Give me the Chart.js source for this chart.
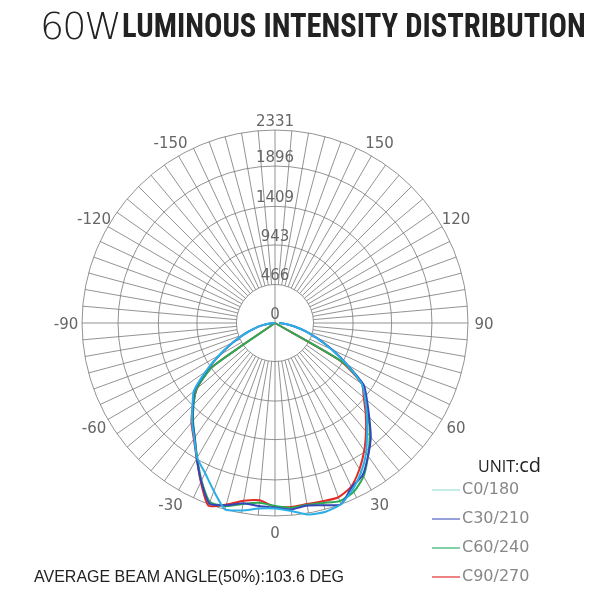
<!DOCTYPE html>
<html><head><meta charset="utf-8">
<script src="https://cdn.jsdelivr.net/npm/chart.js@4"></script>
<style>
body{margin:0;background:#fff;}
#wrap{position:relative;width:600px;height:600px;}
canvas{position:absolute;left:0;top:0;}
.t{position:absolute;white-space:nowrap;}
</style></head><body>
<div id="wrap">
<canvas id="c" width="600" height="600"></canvas>
<div class="t" style="left:40px;top:4px;font:300 38px 'DejaVu Sans','Open Sans';color:#222;letter-spacing:-2px">60W</div>
<div class="t" style="left:122px;top:5px;font:bold 34px 'Liberation Sans Narrow','Roboto Condensed','Liberation Sans';color:#222;transform:scaleX(0.9);transform-origin:left">LUMINOUS INTENSITY DISTRIBUTION</div>
<div class="t" style="left:34px;top:568px;font:16px 'Liberation Sans',Arial;color:#222">AVERAGE BEAM ANGLE(50%):103.6 DEG</div>
<div class="t" style="left:478px;top:451px;font:20px 'Open Sans';color:#222"><span style="font-size:16px">UNIT:</span>cd</div>
</div>
<script>
const angles=[];for(let a=-90;a<=90;a+=5)angles.push(a);
const ringValues=[466,943,1409,1896,2331];
const angleLabels=[0,30,60,90,120,150,-150,-120,-90,-60,-30];
const seriesNames=['C0/180','C30/210','C60/240','C90/270'];
const seriesColors=['#2aaee6','#3545b8','#2aaa55','#e02a24'];
const legendColors=['#9fe0d4','#5060c0','#30b070','#e03030'];
const c0=[0,60,150,260,400,570,780,1020,1280,1410,1560,1700,1880,2000,2160,2330,2300,2250,2240, 2280,2350,2360,2330,2220,2080,1920,1730,1570,1420,1280,1000,750,540,370,230,130,50,0];
const c30=[0,60,150,260,400,570,770,1010,1270,1400,1550,1690,1890,2110,2320,2280,2210,2220,2230, 2260,2240,2280,2330,2190,2120,1960,1800,1610,1450,1310,1010,760,550,380,240,130,50,0];
const c60=[0,0,0,0,0,0,0,920,1240,1390,1540,1690,1880,2100,2300,2290,2220,2180,2210, 2240,2230,2250,2290,2250,2140,1960,1780,1600,1430,1300,940,0,0,0,0,0,0,0];
const c90=[0,0,0,0,0,0,0,940,1230,1400,1570,1710,1890,2120,2350,2270,2180,2150,2220, 2230,2220,2230,2240,2180,2040,1880,1710,1550,1400,1280,910,0,0,0,0,0,0,0];
const allSeries=[c0,c30,c60,c90];
const toXY=v=>angles.map((a,i)=>({x:v[i]*Math.sin(a*Math.PI/180),y:-v[i]*Math.cos(a*Math.PI/180)}));
const K=12.08;
const grid={id:'grid',beforeDatasetsDraw(ch){
 const x=ch.scales.x,y=ch.scales.y,g=ch.ctx;
 const cx=x.getPixelForValue(0),cy=y.getPixelForValue(0);
 const R=v=>x.getPixelForValue(v)-cx;
 g.save();g.strokeStyle='#777';g.lineWidth=0.8;
 ringValues.forEach(v=>{g.beginPath();g.arc(cx,cy,R(v),0,2*Math.PI);g.stroke();});
 for(let a=0;a<360;a+=5){const t=a*Math.PI/180;g.beginPath();
  const r0=(a%180===0)?0:R(ringValues[0]);
  g.moveTo(cx+r0*Math.sin(t),cy+r0*Math.cos(t));g.lineTo(cx+R(2331)*Math.sin(t),cy+R(2331)*Math.cos(t));g.stroke();}
 g.fillStyle='#666';g.font='15px "DejaVu Sans"';g.textAlign='center';g.textBaseline='middle';
 angleLabels.forEach(a=>{const t=a*Math.PI/180,r=R(2331)+16;g.fillText(String(a),cx+r*Math.sin(t),cy+r*Math.cos(t)+2);});
 g.fillText('0',cx,cy-8);
 ringValues.forEach(v=>{g.fillText(String(v),cx,cy-R(v)-8);});
 g.font='16px "DejaVu Sans"';g.textAlign='left';
 seriesNames.forEach((n,i)=>{const yy=490+i*29;g.strokeStyle=legendColors[i];g.lineWidth=1.2;g.beginPath();g.moveTo(432,yy);g.lineTo(460,yy);g.stroke();g.fillStyle='#888';g.fillText(n,462,yy);});
 g.restore();}};
new Chart(document.getElementById('c'),{type:'scatter',
 data:{datasets:allSeries.map((s,i)=>({label:seriesNames[i],data:toXY(s),showLine:true,borderColor:seriesColors[i],borderWidth:2,pointRadius:0,tension:0.2,fill:false}))},
 options:{responsive:false,animation:false,layout:{padding:0},
  plugins:{legend:{display:false},tooltip:{enabled:false}},
  scales:{x:{type:'linear',display:false,min:-275*K,max:325*K},y:{type:'linear',display:false,min:-277*K,max:323*K}}},
 plugins:[grid]});
</script></body></html>
